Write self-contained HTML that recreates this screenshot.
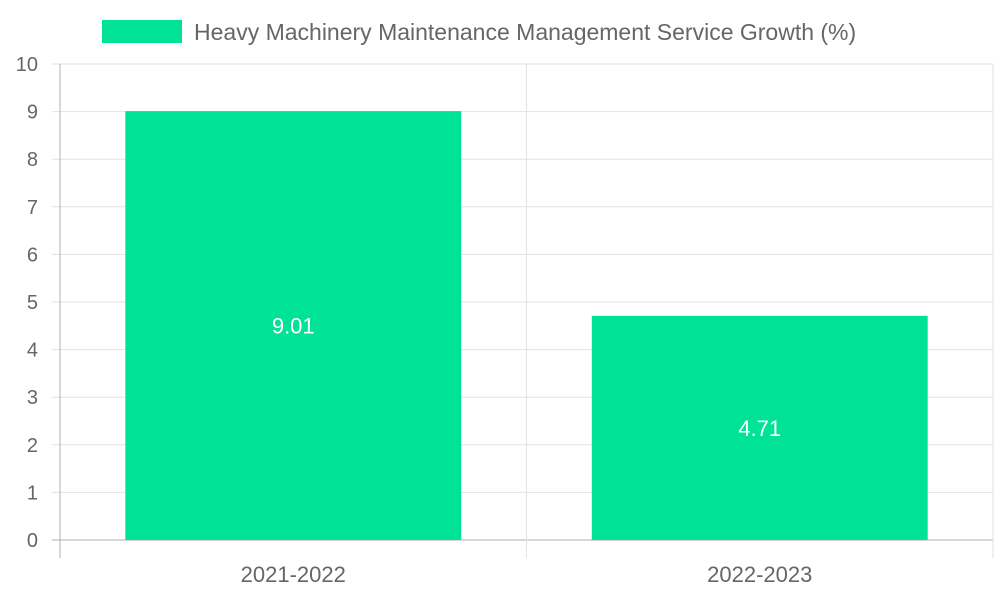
<!DOCTYPE html>
<html><head><meta charset="utf-8"><style>
body{margin:0;background:#fff;font-family:"Liberation Sans",sans-serif;}
svg{display:block}
</style></head><body>
<svg id="chart" width="1000" height="600">
<g id="legend">
<rect x="102" y="20" width="80" height="23" fill="#00e396"/>
<text x="194" y="40" font-size="23" fill="#666">Heavy Machinery Maintenance Management Service Growth (%)</text>
</g>
<g id="grid"></g><g id="bars"></g><g id="labels"></g>
</svg>
<script>
const categories=["2021-2022","2022-2023"];
const values=[9.01,4.71];
const yTicks=[0,1,2,3,4,5,6,7,8,9,10];
const ns="http://www.w3.org/2000/svg";
const L=60,R=993,T=64,B=540,yMax=10;
const y=v=>B-(v/yMax)*(B-T);
const cw=(R-L)/categories.length;
const x=i=>L+cw*i+cw/2;
function mk(p,tag,a,txt){const e=document.createElementNS(ns,tag);for(const k in a)e.setAttribute(k,a[k]);if(txt!==undefined)e.textContent=txt;p.appendChild(e);return e;}
const g=document.getElementById('grid');
yTicks.forEach(t=>{
 const ln=mk(g,'line',{x1:52,x2:R,y1:y(t),y2:y(t),stroke:t===0?'#b0b0b0':'#e2e2e2','stroke-width':1});
 
 
 const tx=mk(g,'text',{x:38,y:y(t)+7,'font-size':20,fill:'#666','text-anchor':'end'},String(t));
 
 
});
for(let i=0;i<=categories.length;i++){
 const xx=L+cw*i;
 const ln=mk(g,'line',{x1:xx,x2:xx,y1:T,y2:558,stroke:i===0?'#b0b0b0':'#e2e2e2','stroke-width':1});
 
 
}
const bg=document.getElementById('bars'),lg=document.getElementById('labels');
const bw=cw*0.72;
categories.forEach((c,i)=>{
 const r=mk(bg,'rect',{x:x(i)-bw/2,y:y(values[i]),width:bw,height:B-y(values[i]),fill:'#00e396'});
 
 
 const v=mk(lg,'text',{x:x(i),y:(y(values[i])+B)/2+8,'font-size':22,fill:'#fff','text-anchor':'middle'},values[i].toFixed(2));
 
 
 const cl=mk(lg,'text',{x:x(i),y:582,'font-size':22,fill:'#666','text-anchor':'middle'},c);
 
 
});
</script>
</body></html>
